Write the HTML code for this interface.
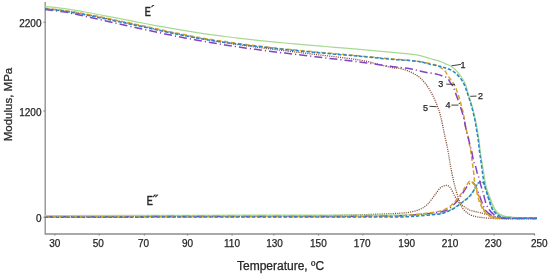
<!DOCTYPE html>
<html><head><meta charset="utf-8"><style>
html,body{margin:0;padding:0;background:#fff;}
svg{display:block;filter:blur(0.35px);}
text{font-family:"Liberation Sans",Arial,sans-serif;fill:#262626;stroke:#262626;stroke-width:0.25px;}
</style></head><body>
<svg width="550" height="275" viewBox="0 0 550 275">
<rect width="550" height="275" fill="#fff"/>
<g stroke="#8c8c8c" stroke-width="1.3" fill="none">
<line x1="45.2" y1="2" x2="45.2" y2="234.6"/>
<line x1="44.9" y1="234" x2="535" y2="234"/>
<line x1="54.8" y1="234" x2="54.8" y2="235.6"/>
<line x1="99.2" y1="234" x2="99.2" y2="235.6"/>
<line x1="144.4" y1="234" x2="144.4" y2="235.6"/>
<line x1="187.5" y1="234" x2="187.5" y2="235.6"/>
<line x1="232.1" y1="234" x2="232.1" y2="235.6"/>
<line x1="273.8" y1="234" x2="273.8" y2="235.6"/>
<line x1="318.5" y1="234" x2="318.5" y2="235.6"/>
<line x1="362.8" y1="234" x2="362.8" y2="235.6"/>
<line x1="406.9" y1="234" x2="406.9" y2="235.6"/>
<line x1="451.5" y1="234" x2="451.5" y2="235.6"/>
<line x1="494" y1="234" x2="494" y2="235.6"/>
<line x1="534.5" y1="234" x2="534.5" y2="235.6"/>
<line x1="43.5" y1="22.3" x2="45.5" y2="22.3"/>
<line x1="43.5" y1="111" x2="45.5" y2="111"/>
<line x1="43.5" y1="217.3" x2="45.5" y2="217.3"/>
</g>
<g fill="none">
<path d="M45.0,216.9 C70.8,216.8 157.5,216.7 200.0,216.5 C242.5,216.3 275.8,216.2 300.0,216.0 C324.2,215.8 331.7,215.5 345.0,215.2 C358.3,214.9 370.8,214.4 380.0,214.1 C389.2,213.8 395.0,213.5 400.0,213.2 C405.0,212.9 406.7,212.8 410.0,212.2 C413.3,211.5 417.1,210.6 420.0,209.3 C422.9,208.0 424.9,206.8 427.3,204.5 C429.7,202.2 432.4,198.2 434.5,195.5 C436.6,192.8 438.2,189.9 440.0,188.2 C441.8,186.5 443.8,185.7 445.5,185.5 C447.2,185.3 448.5,185.6 450.0,187.3 C451.5,189.0 453.1,193.1 454.5,195.5 C455.9,197.9 456.6,199.9 458.2,201.8 C459.8,203.7 462.3,205.3 464.2,206.7 C466.1,208.1 467.8,209.2 469.6,210.0 C471.4,210.8 473.3,211.2 475.0,211.6 C476.7,212.0 477.5,212.1 480.0,212.7 C482.5,213.3 486.7,214.5 490.0,215.3 C493.3,216.1 495.8,217.0 500.0,217.5 C504.2,218.0 508.8,218.2 515.0,218.3 C521.2,218.5 533.3,218.4 537.0,218.4" stroke="#84513a" stroke-width="1.3" stroke-dasharray="1.1 1.1"/>
<path d="M45.0,215.5 C70.8,215.5 150.0,215.4 200.0,215.3 C250.0,215.2 311.7,215.2 345.0,215.2 C378.3,215.2 387.5,215.2 400.0,215.1 C412.5,215.0 413.3,214.8 420.0,214.5 C426.7,214.2 435.5,213.8 440.0,213.3 C444.5,212.8 444.8,212.1 447.0,211.3 C449.2,210.5 451.0,209.8 453.3,208.4 C455.6,207.0 458.4,204.8 460.9,202.9 C463.4,201.0 466.5,198.9 468.5,197.0 C470.5,195.1 471.7,193.2 472.9,191.5 C474.1,189.8 474.9,187.9 475.8,186.5 C476.8,185.1 477.6,183.7 478.6,183.0 C479.6,182.3 480.9,182.2 481.8,182.3 C482.7,182.4 483.3,182.6 484.0,183.5 C484.7,184.4 485.3,186.2 486.0,188.0 C486.7,189.8 487.3,192.0 488.0,194.0 C488.7,196.0 489.3,198.2 490.0,200.0 C490.7,201.8 491.5,203.2 492.4,205.0 C493.3,206.8 494.3,208.9 495.6,210.5 C496.9,212.1 497.6,213.3 500.0,214.4 C502.4,215.5 503.8,216.6 510.0,217.2 C516.2,217.8 532.5,217.8 537.0,217.9" stroke="#a5da92" stroke-width="1.25"/>
<path d="M45.0,216.7 C70.8,216.7 150.0,216.6 200.0,216.6 C250.0,216.6 311.7,216.5 345.0,216.4 C378.3,216.3 387.5,216.2 400.0,215.8 C412.5,215.4 413.7,214.8 420.0,214.2 C426.3,213.6 433.5,212.9 438.0,212.2 C442.5,211.5 444.3,211.4 447.0,210.0 C449.7,208.6 452.4,205.9 454.4,204.0 C456.4,202.1 457.7,200.1 459.0,198.5 C460.3,196.9 460.8,195.9 462.0,194.2 C463.2,192.4 464.7,189.8 466.0,188.0 C467.3,186.2 468.9,184.4 470.0,183.5 C471.1,182.6 471.7,182.2 472.5,182.5 C473.3,182.8 474.2,183.8 475.0,185.0 C475.8,186.2 476.5,188.0 477.3,190.0 C478.1,192.0 479.1,194.5 480.0,197.0 C480.9,199.5 482.0,202.7 483.0,205.0 C484.0,207.3 484.5,209.3 486.0,211.0 C487.5,212.7 489.7,214.2 492.0,215.4 C494.3,216.6 492.5,217.4 500.0,217.9 C507.5,218.4 530.8,218.3 537.0,218.4" stroke="#8243c2" stroke-width="1.5" stroke-dasharray="8 3 1.2 3"/>
<path d="M45.0,216.8 C70.8,216.8 150.0,216.7 200.0,216.6 C250.0,216.5 311.7,216.6 345.0,216.5 C378.3,216.4 387.5,216.2 400.0,215.8 C412.5,215.4 413.6,214.7 420.0,214.0 C426.4,213.3 433.6,212.5 438.2,211.5 C442.8,210.5 445.0,209.4 447.3,208.2 C449.6,207.0 450.5,205.9 452.0,204.5 C453.5,203.1 454.9,201.7 456.4,200.0 C457.9,198.3 459.5,196.3 460.9,194.2 C462.3,192.1 463.6,189.6 465.0,187.5 C466.4,185.4 468.0,182.9 469.0,181.8 C470.0,180.7 470.2,180.7 471.0,181.0 C471.8,181.3 472.8,182.8 473.5,183.8 C474.2,184.8 474.8,185.6 475.5,187.0 C476.2,188.4 476.8,190.2 477.5,192.0 C478.2,193.8 478.8,196.0 479.5,198.0 C480.2,200.0 480.8,202.0 481.5,204.0 C482.2,206.0 482.9,208.2 484.0,210.0 C485.1,211.8 486.5,213.3 488.0,214.5 C489.5,215.7 491.0,216.4 493.0,217.0 C495.0,217.6 492.7,217.9 500.0,218.1 C507.3,218.3 530.8,218.2 537.0,218.2" stroke="#d9a227" stroke-width="1.5" stroke-dasharray="4.5 2.5"/>
<path d="M45.0,217.2 C70.8,217.2 150.0,217.1 200.0,217.1 C250.0,217.1 311.7,217.0 345.0,217.0 C378.3,217.0 387.5,217.2 400.0,217.0 C412.5,216.8 413.3,216.3 420.0,215.8 C426.7,215.3 435.5,214.6 440.0,213.9 C444.5,213.2 444.8,212.6 447.0,211.8 C449.2,211.0 451.0,210.3 453.3,208.9 C455.6,207.5 458.4,205.3 460.9,203.4 C463.4,201.5 466.5,199.4 468.5,197.5 C470.5,195.6 471.7,193.8 472.9,192.0 C474.1,190.2 474.7,188.3 475.6,186.8 C476.5,185.3 477.4,183.8 478.3,183.0 C479.2,182.2 480.2,181.8 481.1,181.8 C482.0,181.9 483.1,182.3 483.8,183.3 C484.5,184.3 484.9,185.8 485.5,187.6 C486.1,189.4 486.8,191.8 487.5,194.0 C488.2,196.2 488.8,198.8 489.5,201.0 C490.2,203.2 490.8,205.2 491.5,207.0 C492.2,208.8 492.9,210.2 494.0,211.5 C495.1,212.8 496.2,214.0 498.0,214.9 C499.8,215.8 498.5,216.6 505.0,217.2 C511.5,217.8 531.7,218.0 537.0,218.2" stroke="#2a86c8" stroke-width="1.5" stroke-dasharray="3.5 1.8"/>
<path d="M45.0,8.8 C48.3,9.2 58.3,10.1 65.0,11.0 C71.7,11.9 78.3,13.1 85.0,14.3 C91.7,15.5 98.3,16.9 105.0,18.3 C111.7,19.7 118.3,21.1 125.0,22.5 C131.7,23.9 138.3,25.4 145.0,26.8 C151.7,28.2 158.3,29.8 165.0,31.2 C171.7,32.6 178.3,34.0 185.0,35.4 C191.7,36.8 198.3,38.1 205.0,39.3 C211.7,40.5 218.3,41.5 225.0,42.6 C231.7,43.7 238.3,44.7 245.0,45.6 C251.7,46.5 258.3,47.4 265.0,48.3 C271.7,49.2 278.3,50.0 285.0,50.8 C291.7,51.6 298.3,52.4 305.0,53.2 C311.7,54.0 318.3,54.8 325.0,55.6 C331.7,56.4 338.3,57.1 345.0,58.0 C351.7,58.9 357.5,59.5 365.0,61.0 C372.5,62.5 384.2,66.0 390.0,67.2 C395.8,68.5 396.8,67.8 400.0,68.5 C403.2,69.2 406.0,70.0 409.0,71.3 C412.0,72.6 415.4,74.4 418.2,76.4 C420.9,78.5 423.2,80.7 425.5,83.6 C427.8,86.5 430.0,90.3 431.8,93.6 C433.6,96.9 435.0,100.0 436.4,103.6 C437.8,107.2 439.1,110.4 440.4,115.3 C441.7,120.2 442.9,127.0 444.2,133.0 C445.5,138.9 447.0,145.6 448.0,151.0 C449.0,156.4 449.5,160.3 450.4,165.3 C451.3,170.3 452.6,176.6 453.6,181.0 C454.6,185.4 455.5,188.6 456.4,191.8 C457.3,195.0 458.1,197.4 459.0,200.0 C459.9,202.6 460.8,205.3 462.0,207.3 C463.2,209.3 464.8,210.8 466.4,212.2 C468.0,213.5 469.5,214.6 471.8,215.4 C474.1,216.2 475.3,216.8 480.0,217.3 C484.7,217.9 490.5,218.5 500.0,218.7 C509.5,218.9 530.8,218.7 537.0,218.7" stroke="#84513a" stroke-width="1.3" stroke-dasharray="1.1 1.1"/>
<path d="M45.0,6.3 C48.3,6.7 58.3,7.6 65.0,8.6 C71.7,9.5 78.3,10.8 85.0,12.0 C91.7,13.2 98.3,14.5 105.0,15.8 C111.7,17.1 118.3,18.3 125.0,19.6 C131.7,20.9 138.3,22.2 145.0,23.5 C151.7,24.8 158.3,26.0 165.0,27.2 C171.7,28.4 178.3,29.6 185.0,30.7 C191.7,31.8 198.3,32.8 205.0,33.8 C211.7,34.8 218.3,35.6 225.0,36.5 C231.7,37.4 238.3,38.1 245.0,38.9 C251.7,39.7 258.3,40.4 265.0,41.1 C271.7,41.8 278.3,42.4 285.0,43.0 C291.7,43.6 298.3,44.2 305.0,44.8 C311.7,45.4 318.3,46.0 325.0,46.5 C331.7,47.0 338.3,47.6 345.0,48.1 C351.7,48.6 357.5,49.1 365.0,49.8 C372.5,50.5 381.7,51.4 390.0,52.2 C398.3,53.0 408.3,53.7 415.0,54.7 C421.7,55.8 425.8,57.4 430.0,58.5 C434.2,59.6 437.5,60.4 440.0,61.3 C442.5,62.1 443.1,62.7 445.0,63.6 C446.9,64.5 449.5,65.2 451.5,66.5 C453.5,67.8 455.4,69.8 457.0,71.5 C458.6,73.2 460.1,75.2 461.4,77.0 C462.7,78.8 463.7,80.6 464.6,82.5 C465.5,84.4 466.2,86.4 466.8,88.4 C467.4,90.4 467.9,92.4 468.5,94.5 C469.1,96.6 470.0,99.1 470.6,101.1 C471.2,103.1 471.6,104.5 472.2,106.5 C472.8,108.5 473.3,110.6 473.9,113.1 C474.5,115.6 475.3,119.0 475.8,121.5 C476.3,124.0 476.6,125.9 477.0,128.1 C477.4,130.3 477.8,132.4 478.1,134.6 C478.5,136.8 478.8,138.9 479.1,141.2 C479.4,143.5 479.6,146.0 479.9,148.5 C480.2,151.0 480.5,153.6 480.9,156.2 C481.3,158.8 481.8,161.2 482.2,163.8 C482.6,166.4 483.1,169.1 483.6,172.0 C484.1,174.9 484.5,178.3 485.0,181.0 C485.5,183.7 486.0,186.0 486.5,188.0 C487.0,190.0 487.6,191.4 488.2,193.0 C488.8,194.6 489.3,195.7 490.0,197.5 C490.7,199.3 491.5,201.8 492.4,204.0 C493.3,206.2 494.3,208.6 495.6,210.5 C496.9,212.4 498.3,214.2 500.0,215.3 C501.7,216.5 503.5,217.0 506.0,217.4 C508.5,217.8 509.8,217.8 515.0,217.9 C520.2,218.0 533.3,218.1 537.0,218.1" stroke="#a5da92" stroke-width="1.25"/>
<path d="M45.0,8.3 C48.3,8.7 58.3,9.7 65.0,10.6 C71.7,11.5 78.3,12.7 85.0,13.9 C91.7,15.1 98.3,16.4 105.0,17.8 C111.7,19.2 118.3,20.6 125.0,22.0 C131.7,23.4 138.3,24.9 145.0,26.3 C151.7,27.8 158.3,29.3 165.0,30.7 C171.7,32.1 178.3,33.5 185.0,34.8 C191.7,36.1 198.3,37.4 205.0,38.5 C211.7,39.6 218.3,40.6 225.0,41.6 C231.7,42.6 238.3,43.5 245.0,44.4 C251.7,45.3 258.3,46.0 265.0,46.8 C271.7,47.6 278.3,48.3 285.0,49.0 C291.7,49.7 298.3,50.4 305.0,51.0 C311.7,51.6 318.3,52.2 325.0,52.8 C331.7,53.4 338.3,54.0 345.0,54.6 C351.7,55.2 357.5,55.7 365.0,56.4 C372.5,57.1 381.7,57.9 390.0,58.7 C398.3,59.5 408.3,60.2 415.0,61.0 C421.7,61.8 426.3,62.8 430.0,63.5 C433.7,64.2 435.2,64.8 437.0,65.5 C438.8,66.2 439.7,66.9 441.0,67.8 C442.3,68.7 443.8,69.5 445.0,70.9 C446.2,72.3 447.2,74.8 448.3,76.4 C449.4,78.0 450.4,79.2 451.5,80.7 C452.6,82.2 454.0,84.1 454.8,85.6 C455.6,87.1 455.8,87.8 456.4,89.5 C457.0,91.2 457.9,93.7 458.5,95.6 C459.1,97.5 459.6,99.1 460.2,101.1 C460.8,103.1 461.2,105.4 461.8,107.6 C462.4,109.8 463.0,111.7 463.5,114.2 C464.0,116.7 464.4,120.3 464.8,122.6 C465.2,124.9 465.5,126.5 465.9,128.1 C466.3,129.7 466.6,130.6 467.0,132.4 C467.4,134.2 468.2,136.9 468.6,139.0 C469.0,141.1 469.2,143.4 469.5,145.0 C469.8,146.6 470.1,146.6 470.4,148.5 C470.7,150.4 471.1,153.6 471.5,156.2 C471.9,158.8 472.1,161.2 472.5,163.8 C472.9,166.4 473.3,169.6 473.6,172.0 C473.9,174.4 474.0,176.0 474.2,178.0 C474.4,180.0 474.5,182.2 474.8,184.0 C475.1,185.8 475.8,187.0 476.2,188.7 C476.6,190.4 476.9,192.5 477.3,194.2 C477.7,195.9 478.0,197.4 478.5,199.0 C479.0,200.6 479.5,202.1 480.4,204.0 C481.2,205.9 482.3,208.7 483.6,210.5 C484.9,212.3 486.5,213.8 488.0,214.9 C489.5,216.1 490.4,216.8 492.4,217.4 C494.4,218.0 492.6,218.2 500.0,218.4 C507.4,218.6 530.8,218.4 537.0,218.4" stroke="#d9a227" stroke-width="1.5" stroke-dasharray="4.5 2.5"/>
<path d="M45.0,9.5 C48.3,9.9 58.3,11.0 65.0,12.1 C71.7,13.2 78.3,14.9 85.0,16.3 C91.7,17.7 98.3,19.2 105.0,20.7 C111.7,22.2 118.3,23.7 125.0,25.2 C131.7,26.7 138.3,28.2 145.0,29.6 C151.7,31.1 158.3,32.5 165.0,33.9 C171.7,35.3 178.3,36.6 185.0,37.9 C191.7,39.2 198.3,40.4 205.0,41.6 C211.7,42.8 218.3,43.9 225.0,44.9 C231.7,45.9 238.3,46.9 245.0,47.9 C251.7,48.9 258.3,49.7 265.0,50.6 C271.7,51.5 278.3,52.3 285.0,53.1 C291.7,53.9 298.3,54.7 305.0,55.5 C311.7,56.3 318.3,57.1 325.0,57.9 C331.7,58.7 338.3,59.4 345.0,60.2 C351.7,61.0 357.5,61.7 365.0,62.7 C372.5,63.7 382.5,65.3 390.0,66.3 C397.5,67.3 404.3,67.8 410.0,68.8 C415.7,69.8 419.7,71.1 424.0,72.0 C428.3,72.9 433.0,73.4 436.0,74.0 C439.0,74.6 440.1,75.1 442.0,75.8 C443.9,76.5 445.8,76.8 447.2,78.0 C448.6,79.2 449.6,81.6 450.5,82.9 C451.4,84.2 452.0,84.5 452.6,85.6 C453.2,86.7 453.6,87.6 454.3,89.4 C455.0,91.2 456.2,94.8 456.9,96.7 C457.6,98.6 457.9,99.5 458.5,101.0 C459.1,102.5 459.6,104.0 460.2,106.0 C460.8,108.0 461.8,111.1 462.4,113.1 C463.0,115.1 463.4,116.2 463.8,118.0 C464.2,119.8 464.6,121.8 465.0,124.0 C465.4,126.2 466.0,128.8 466.5,131.0 C467.0,133.2 467.5,135.0 468.0,137.0 C468.5,139.0 469.0,141.0 469.5,143.0 C470.0,145.0 470.6,147.3 471.0,149.0 C471.4,150.7 471.6,150.9 472.0,152.9 C472.4,154.9 473.0,158.7 473.6,161.1 C474.2,163.5 475.2,165.0 475.8,167.1 C476.4,169.2 476.8,171.7 477.3,173.5 C477.8,175.3 478.4,176.0 478.9,177.8 C479.4,179.6 479.9,182.4 480.5,184.4 C481.1,186.4 481.7,188.2 482.2,189.8 C482.7,191.4 482.9,192.0 483.5,194.2 C484.1,196.4 484.9,200.3 485.8,202.9 C486.7,205.5 487.8,207.6 489.1,209.5 C490.4,211.4 491.9,213.0 493.4,214.2 C494.8,215.4 495.9,216.0 497.8,216.7 C499.7,217.4 498.5,218.0 505.0,218.3 C511.5,218.6 531.7,218.5 537.0,218.5" stroke="#8243c2" stroke-width="1.5" stroke-dasharray="8 3 1.2 3"/>
<path d="M45.0,8.8 C48.3,9.2 58.3,10.3 65.0,11.3 C71.7,12.3 78.3,13.6 85.0,14.8 C91.7,16.1 98.3,17.4 105.0,18.8 C111.7,20.2 118.3,21.6 125.0,23.0 C131.7,24.4 138.3,25.9 145.0,27.3 C151.7,28.8 158.3,30.3 165.0,31.7 C171.7,33.1 178.3,34.5 185.0,35.8 C191.7,37.1 198.3,38.3 205.0,39.4 C211.7,40.5 218.3,41.5 225.0,42.4 C231.7,43.3 238.3,44.2 245.0,45.0 C251.7,45.8 258.3,46.5 265.0,47.3 C271.7,48.0 278.3,48.8 285.0,49.5 C291.7,50.2 298.3,50.9 305.0,51.5 C311.7,52.1 318.3,52.7 325.0,53.3 C331.7,53.9 338.3,54.4 345.0,55.0 C351.7,55.6 357.5,56.1 365.0,56.8 C372.5,57.5 381.7,58.5 390.0,59.2 C398.3,59.9 408.3,60.2 415.0,61.0 C421.7,61.8 425.7,63.3 430.0,64.2 C434.3,65.1 438.5,66.0 441.0,66.6 C443.5,67.2 443.2,67.2 445.0,67.8 C446.8,68.4 449.5,69.2 451.5,70.3 C453.5,71.4 455.4,72.9 457.0,74.4 C458.6,76.0 460.1,77.8 461.4,79.6 C462.7,81.4 463.8,83.7 464.6,85.4 C465.4,87.1 465.8,88.5 466.3,90.0 C466.8,91.5 467.2,92.7 467.8,94.5 C468.4,96.3 469.4,99.1 470.0,101.1 C470.6,103.1 471.1,104.5 471.6,106.5 C472.2,108.5 472.7,110.6 473.3,113.1 C473.9,115.6 474.7,119.0 475.2,121.5 C475.7,124.0 475.9,125.9 476.3,128.1 C476.7,130.3 477.0,132.4 477.4,134.6 C477.8,136.8 478.1,138.9 478.4,141.2 C478.7,143.5 478.8,146.0 479.1,148.5 C479.4,151.0 479.8,153.6 480.2,156.2 C480.6,158.8 480.9,160.8 481.3,163.8 C481.7,166.9 482.3,171.6 482.7,174.5 C483.1,177.4 483.4,179.1 483.8,181.1 C484.2,183.1 484.4,184.7 484.9,186.5 C485.3,188.3 485.9,190.0 486.5,192.0 C487.1,194.0 487.8,196.3 488.5,198.5 C489.2,200.7 489.9,203.1 490.7,205.1 C491.5,207.1 492.2,208.9 493.4,210.5 C494.6,212.1 496.3,213.7 497.8,214.8 C499.3,216.0 500.2,216.9 502.2,217.4 C504.2,217.9 504.2,217.9 510.0,218.1 C515.8,218.2 532.5,218.3 537.0,218.3" stroke="#2a86c8" stroke-width="1.5" stroke-dasharray="3.5 1.8"/>
</g>
<g stroke="#404040" stroke-width="1" fill="none">
<line x1="451.5" y1="65.8" x2="461" y2="64.4"/>
<line x1="470.3" y1="96.3" x2="476.5" y2="96.1"/>
<line x1="446.2" y1="84.1" x2="455" y2="84.5"/>
<line x1="451.3" y1="105.1" x2="458.5" y2="105.1"/>
<line x1="429.5" y1="106.3" x2="436.7" y2="106.7"/>
</g>
<g font-size="10">
<text x="54.8" y="246.5" text-anchor="middle">30</text>
<text x="98.2" y="246.5" text-anchor="middle">50</text>
<text x="143.6" y="246.5" text-anchor="middle">70</text>
<text x="187.5" y="246.5" text-anchor="middle">90</text>
<text x="232.0" y="246.5" text-anchor="middle">110</text>
<text x="274.6" y="246.5" text-anchor="middle">130</text>
<text x="318.4" y="246.5" text-anchor="middle">150</text>
<text x="362.2" y="246.5" text-anchor="middle">170</text>
<text x="406.7" y="246.5" text-anchor="middle">190</text>
<text x="450.0" y="246.5" text-anchor="middle">210</text>
<text x="493.2" y="246.5" text-anchor="middle">230</text>
<text x="539.3" y="246.5" text-anchor="middle">250</text>
<text x="41.5" y="26.8" text-anchor="end">2200</text>
<text x="41.5" y="115.5" text-anchor="end">1200</text>
<text x="41.5" y="221.8" text-anchor="end">0</text>
</g>
<g font-size="9">
<text x="460.6" y="68">1</text>
<text x="477.9" y="98.8">2</text>
<text x="438.2" y="86.8">3</text>
<text x="445.6" y="107.5">4</text>
<text x="422.9" y="110.5">5</text>
</g>
<text transform="translate(144.8,15.8) scale(0.72,1)" font-size="12.5" style="stroke-width:0.6px">E</text><text x="150.8" y="16.3" font-size="14">´</text>
<text transform="translate(146.8,205.1) scale(0.72,1)" font-size="12.5" style="stroke-width:0.6px">E</text><text x="152.8" y="205.6" font-size="14">˝</text>
<text x="237" y="270" font-size="12">Temperature, ºC</text>
<text transform="translate(12.2,104.5) rotate(-90)" text-anchor="middle" font-size="11.5">Modulus, MPa</text>
</svg>
</body></html>
